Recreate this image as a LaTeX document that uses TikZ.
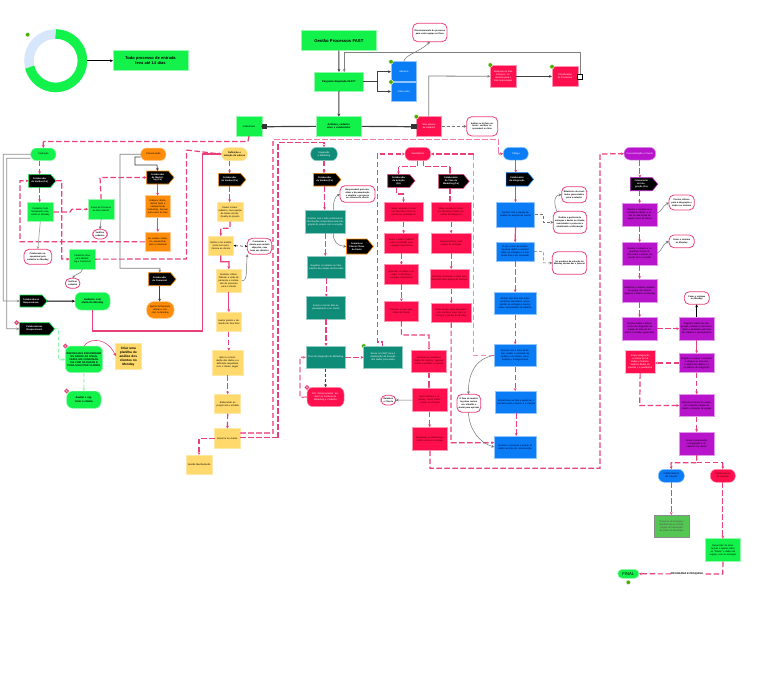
\documentclass[tikz,border=0pt]{standalone}
\usepackage{fontspec}
\setmainfont{Liberation Sans}
\usetikzlibrary{arrows.meta,shapes.symbols,calc}
\definecolor{cgreen}{HTML}{12F24A}
\definecolor{cred}{HTML}{FF0F4D}
\definecolor{cblue}{HTML}{0A7CF5}
\definecolor{corange}{HTML}{FF8C0A}
\definecolor{cyellow}{HTML}{FFD96B}
\definecolor{cteal}{HTML}{0F8C78}
\definecolor{cmag}{HTML}{B814CC}
\definecolor{cpink}{HTML}{E8407A}
\definecolor{cring}{HTML}{D6E6FB}
\newcommand{\tn}{\fontsize{2.35}{3}\selectfont}
\tikzset{
  x=1pt,y=-1pt,
  base/.style={rectangle,inner sep=0pt,outer sep=0pt,align=center,font=\tn},
  gbox/.style={base,fill=cgreen,draw=cgreen!45,line width=.5pt,text=black},
  rbox/.style={base,fill=cred,draw=cred!45,line width=.5pt,text=white},
  bbox/.style={base,fill=cblue,draw=cblue!45,line width=.5pt,text=black!80!blue},
  obox/.style={base,fill=corange,draw=corange!45,line width=.5pt,text=black},
  ybox/.style={base,fill=cyellow,draw=cyellow!60,line width=.5pt,text=black},
  tbox/.style={base,fill=cteal,draw=cteal!45,line width=.5pt,text=white},
  mbox/.style={base,fill=cmag,draw=cmag!45,line width=.5pt,text=black},
  bub/.style={base,fill=white,draw=cpink,line width=.8pt,rounded corners=5pt,text=black,font=\fontsize{2.2}{2.8}\selectfont\bfseries},
  round/.style={rounded corners=6pt},
  tagg/.style={signal,signal to=east,signal pointer angle=100,inner sep=0pt,outer sep=0pt,align=center,fill=black,line width=.6pt,text=white,font=\fontsize{2.3}{2.9}\selectfont\bfseries},
  chk/.style={circle,fill=black!45!green!70!yellow,draw=white,line width=.4pt,minimum size=4.6pt,inner sep=0pt},
  mrk/.style={circle,fill=black!20,draw=cpink,line width=1pt,minimum size=3.6pt,inner sep=0pt},
  sq/.style={rectangle,fill=black!80,minimum size=5.5pt,inner sep=0pt,outer sep=0pt},
  tip/.style={-{Stealth[length=3pt,width=2.8pt]}},
  pd/.style={tip,draw=cpink,line width=1.2pt,dash pattern=on 5.5pt off 2.5pt},
  pdn/.style={draw=cpink,line width=1.2pt,dash pattern=on 5.5pt off 2.5pt},
  ps/.style={tip,draw=cpink,line width=1.2pt},
  gl/.style={tip,draw=black!50,line width=.8pt},
  dk/.style={tip,draw=black!75,line width=1pt},
  thin1/.style={tip,draw=black!55,line width=.5pt},
  dg/.style={tip,draw=black!55,line width=.5pt,densely dashed},
  pg/.style={tip,draw=cgreen!45,line width=1pt,dash pattern=on 4pt off 2pt},
}
% name, style, x1, y1, x2, y2, text
\newcommand{\nd}[7]{%
  \pgfmathsetmacro{\wa}{#5-#3}\pgfmathsetmacro{\ha}{#6-#4}%
  \pgfmathsetmacro{\ca}{(#3+#5)/2}\pgfmathsetmacro{\cb}{(#4+#6)/2}%
  \pgfmathsetmacro{\tw}{\wa-2.5}%
  \node[#2,minimum width=\wa pt,minimum height=\ha pt,text width=\tw pt] (#1) at (\ca,\cb) {#7};}
\newcommand{\tg}[7]{%
  \pgfmathsetmacro{\wa}{#5-#3}\pgfmathsetmacro{\ha}{#6-#4}%
  \pgfmathsetmacro{\ca}{(#3+#5)/2}\pgfmathsetmacro{\cb}{(#4+#6)/2}%
  \pgfmathsetmacro{\tw}{\wa*0.62}%
  \node[tagg,draw=#2,minimum width=\wa pt,minimum height=\ha pt,text width=\tw pt] (#1) at (\ca,\cb) {#7};}
\begin{document}
\begin{tikzpicture}
\useasboundingbox (0,0) rectangle (768,685);
\fill[white] (0,0) rectangle (768,685);
% ring
\coordinate (rc) at (55.7,60.7);
\draw[cring,line width=9.5pt] (rc) circle[radius=26.75pt];
\draw[cgreen,line width=9.5pt] (55.7,33.95) arc[start angle=90,end angle=-166,radius=26.75pt];
\coordinate (rr) at (87.2,60.7);
\node[chk] (c0) at (27.7,34.7) {};
\nd{todo}{gbox,font=\fontsize{4}{5.2}\selectfont\bfseries}{113}{50.7}{188}{70.7}{Todo processo de entrada\\leva até 14 dias}
\draw[tip,black,line width=1.2pt] (rr) -- (todo.west);
% top
\nd{gest}{gbox,font=\fontsize{4.2}{5.2}\selectfont\bfseries}{301.7}{30.7}{376}{50.7}{Gestão Processos FAST}
\nd{perg}{gbox,font=\fontsize{2.6}{3.2}\selectfont\bfseries}{314.7}{72}{363.3}{91}{Pergunta disparada FAST?}
\nd{abe}{bbox,text=white}{391}{61.7}{416.7}{81.7}{Abertura}
\nd{fab}{bbox,text=white}{391}{82}{416.7}{101}{Fábio erika}
\nd{bt}{bub}{412.7}{23.3}{447}{41.7}{Direcionamento do processo para outra equipe ou fluxo}
\nd{re1}{rbox}{490.3}{65}{516}{87.7}{Resposta no Fale Conosco: Direcionar para o time responsável}
\nd{re2}{rbox}{552}{66.7}{578}{86}{Classificação de Processos}
\node[sq,fill=white,draw=black,line width=.7pt,minimum size=5pt] (sqw) at (580.3,76.7) {};
\nd{ana}{gbox,font=\fontsize{2.5}{3.1}\selectfont\bfseries}{316}{116.7}{361.7}{136}{Análises, cadastro ativo e colaborador}
\nd{cad}{gbox}{236}{116.7}{262}{136}{Cadastrado}
\nd{nao}{rbox}{416.3}{116.7}{441.7}{136}{Não passou de cadastro}
\nd{bn}{bub}{466.7}{116.7}{497.7}{136}{Avaliar se há fase anterior: verificar responsável no time}
\node[sq] (s1) at (264.3,126.7) {};
\node[sq] (s2) at (414,126.7) {};
\foreach \n/\a/\b in {c1/391/61.7,c2/391/82,c3/490.3/65,c4/552/66.7,c5/416.3/116.7,c6/363.7/346,c7/628.3/582.3}{\node[chk] (\n) at (\a,\b) {};}
\draw[dk] (gest.south) -- (perg.north);
\draw[dk] (perg.south) -- (ana.north);
\draw[dk,-] (cad.east) -- (s1.west);
\draw[dk,-,line width=1.2pt] (s1.east) -- (ana.west);
\draw[dk,-,line width=1.2pt] (ana.east) -- (s2.west);
\draw[gl,line width=1pt] (sqw.north) -- (580.3,52.7) -- (344.3,52.7) -- (344.3,72);
\draw[dk,line width=.7pt] (perg.east) -- (377,81.5) -- (377,71.7) -- (abe.west);
\draw[dk,line width=.7pt] (perg.east) -- (377,81.5) -- (377,91.5) -- (fab.west);
\draw[thin1] (abe.north) .. controls (404,55) and (420,52) .. (bt.south);
\draw[gl] (428.7,116.7) -- (428.7,76) -- (re1.west);
\draw[dk,line width=.7pt] (re1.east) -- (re2.west);
\draw[dg,line width=.7pt] (nao.east) -- (bn.west);
% cadastro column
\nd{pc}{gbox,round}{30.7}{148}{56}{160.7}{Captação}
\tg{t1}{cgreen}{26}{174.3}{53.3}{187.3}{Colaborador de Vendas (Fa)}
\nd{g1}{gbox}{27.3}{202.3}{53.3}{221.7}{Cadastrar todo fechamento relevante no Monday}
\nd{bg1}{bub}{24}{249.3}{51.7}{264.3}{Colaborador responsável pelo cadastro no Monday}
\nd{g2}{gbox}{88.3}{199.3}{114}{219}{Envio do Processo ao time anterior}
\nd{bg2}{bub}{92.7}{229.3}{107.3}{239}{Verificar cadastro}
\nd{g3}{gbox}{69.7}{249.3}{95}{269}{Cadastrar ativo para Marketing e Comercial}
\nd{bg3}{bub}{65.3}{278.3}{80}{288.3}{Verificar cadastro}
\nd{po}{obox,round}{140.7}{148}{166}{160.7}{Comunicação}
\tg{t2}{corange}{144}{171}{171.3}{184}{Colaborador de Marketing (Fa)}
\nd{o1}{obox}{145}{195.7}{170.7}{217.7}{Elaborar oferta, alinhar texto e campanha de marketing. Aprovar para envio ao time}
\nd{o2}{obox}{145}{232}{170.7}{251.7}{Ao receber cadastro, encaminhar para o comercial}
\tg{t3}{corange}{146}{272.7}{173.3}{285.7}{Colaborador de Comercial}
\nd{o3}{obox,rounded corners=7pt}{146.7}{301.7}{174}{318.3}{Ajustar fechamento, alterar e concluir no Monday}
\tg{t4}{cgreen}{17.3}{295}{44.7}{307}{Colaboradores Responsáveis}
\nd{g4}{gbox,round,font=\fontsize{2.6}{3.2}\selectfont\bfseries}{75}{292.3}{110}{310}{Cadastro com alerta do Monday}
\tg{t5}{cgreen}{16.7}{322.7}{52}{335}{Colaboradores Responsáveis}
\nd{g5}{gbox,round,font=\fontsize{2.5}{3.1}\selectfont\bfseries}{65.3}{346}{102.7}{372.7}{REFORÇAR E ENCAMINHAR OS DADOS AO FINANCEIRO, EM CONSONÂNCIA COM OS DADOS E PARA SOLICITAR CLIENTE}
\nd{note}{ybox,font=\fontsize{3.2}{4}\selectfont\bfseries}{115.7}{343.3}{141}{369.3}{Criar uma planilha de análise dos clientes no Monday}
\nd{g6}{gbox,round,font=\fontsize{2.6}{3.2}\selectfont\bfseries}{66.7}{391}{101}{408.3}{Avaliar e registrar o cliente}
\foreach \n/\a/\b in {m1/16.7/322.7,m2/65.3/346,m3/66.7/391,m4/307/387.3}{\node[mrk] (\n) at (\a,\b) {};}
\draw[pdn] (cad.south) -- (248,141.5) -- (43.3,141.5);
\draw[pd] (43.3,141.5) -- (pc.north);
\draw[gl,draw=black!45] (pc.west) -- (3.3,154.3) -- (3.3,301) -- (t4.west);
\draw[gl,draw=black!45] (30.7,158.3) -- (6.7,158.3) -- (6.7,328.8) -- (t5.west);
\draw[pd] (t1.north |- pc.south) -- (t1.north);
\draw[pd] (t1.south) -- (t1.south |- g1.north);
\draw[pd] (o2.west) -- (20,241.8) -- (20,180.8) -- (t1.west);
\draw[pd] (t1.east) -- (61.7,180.8) -- (61.7,259) -- (g3.west);
\draw[pd] (g1.east) -- (70,212) -- (72,209.2) -- (g2.west);
\draw[pd] (g2.north) -- (100,177.6) -- (t2.west);
\draw[thin1] (g2.south) -- (bg2.north);
\draw[thin1,draw=black!35,line width=.7pt] (g1.south) -- (bg1.north);
\draw[thin1] (g3.south) .. controls (82,274) and (75,274) .. (bg3.north);
\draw[pdn] (g3.east) -- (186.5,259) -- (186.5,150);
\draw[gl] (po.west) -- (120,154.3) -- (120,268.3) -- (160,268.3) -- (t3.north);
\draw[dk,line width=.7pt] (140.7,157) -- (135,157) -- (135,165) -- (157,165) -- (t2.north);
\draw[ps] (t2.south) -- (t2.south |- o1.north);
\draw[ps] (o1.south) -- (o2.north);
\draw[dk] (t3.south) -- (t3.south |- o3.north);
\draw[tip,black,line width=1pt] (t4.east) -- (g4.west);
\draw[cpink,line width=1.3pt] (g4.south) -- (92.5,331) -- (202.3,331) -- (202.3,154);
\draw[tip,draw=cgreen!45,line width=1pt,dash pattern=on 4pt off 2pt] (t5.east) -- (58.7,328.8) -- (58.7,360) -- (g5.west);
\draw[pg] (g5.south) -- (g6.north);
\draw[tip,draw=cpink,line width=.6pt] (84,346) .. controls (90,337) and (108,338) .. (note.west);
% yellow column
\nd{py}{ybox,round,font=\tn\bfseries}{221.7}{147.7}{247.3}{160.7}{Definição e solução de valores}
\tg{t6}{corange}{216}{173.3}{243.3}{186}{Colaborador de Vendas (Fa)}
\nd{y1}{ybox}{217}{202.3}{243}{221.7}{Dados iniciais: cadastro, nova equipe de bases iniciais; Quality do projeto}
\nd{y2}{ybox}{208}{236}{233.7}{255.3}{Alinhar e ter análise inicial com pertinência ao cliente}
\nd{by}{bub}{247.3}{238.3}{271.7}{254.3}{Comunicar o cliente para reduzir objeções, com base em cálculos}
\nd{y3}{ybox}{216}{269.3}{241.7}{292}{Atualizar critério, fidelizar a visão de parceiros e conteúdos do processo para o cliente}
\nd{y4}{ybox}{216}{312}{241.7}{331.7}{Avaliar gastos e demanda do time final}
\nd{y5}{ybox}{212}{350.7}{243}{375}{Após a consolidação dos dados e a definição reajustada com o cliente, seguir}
\nd{y6}{ybox}{214.7}{394.3}{240.7}{413.7}{Elaborando ao projeto até a entrada}
\nd{y7}{ybox}{214.7}{428.7}{240}{448}{Encerrar ao cliente}
\nd{y8}{ybox}{186.3}{455}{212}{474.3}{Gestão Manifestando}
\draw[pd] (186.5,150) -- (py.west);
\draw[ps] (202.3,154) -- (py.west |- 202.3,154);
\draw[pd] (py.south -| t6.north) -- (t6.north);
\draw[pd] (t6.south) -- (t6.south |- y1.north);
\draw[pd] (y1.south) -- (230,228.3) -- (220.8,228.3) -- (y2.north);
\draw[ps] (y2.south) -- (220.8,261.7) -- (229,261.7) -- (y3.north);
\draw[ps] (y3.south) -- (y4.north);
\draw[pd] (y4.south) -- (y5.north -| y4.south);
\draw[pd] (y5.south -| y6.north) -- (y6.north);
\draw[pd] (y6.south) -- (y7.north);
\draw[pd] (y7.west |- 214.7,438.3) -- (199,438.3) -- (y8.north -| 199,455);
\draw[{Stealth[length=2.4pt,width=2.2pt]}-{Stealth[length=2.4pt,width=2.2pt]},black,line width=.5pt,densely dashed] (y2.east) -- (by.west);
\draw[thin1] (y3.east) .. controls (248,282) and (246,268) .. (by.south west);
% teal
\nd{pt}{tbox,round}{310.7}{147.3}{337.3}{160.7}{Integração e Marketing}
\tg{t7}{corange}{311}{173.3}{338.3}{186}{Colaborador de Vendas (Fa)}
\nd{bt1}{bub}{340}{185.7}{375}{202.3}{Responsável para atualizar a documentação e sinalizar o processo no sistema do cliente}
\nd{e1}{tbox}{305.3}{210}{345.3}{233.3}{Analisar com o time comercial as informações necessárias para integração do projeto com a solução}
\tg{t8}{corange}{343.3}{239}{370.3}{254}{Comunicar Cliente Chave da Pauta}
\nd{e2}{tbox}{307.3}{256}{345.3}{278.3}{Registrar no sistema as informações das etapas de Reuniões}
\nd{e3}{tbox}{306.7}{296.7}{345.3}{319}{Enviar e marcar data ao planejamento e ao cliente}
\nd{e4}{tbox}{306}{346}{345.3}{368.7}{Final de Integração do Marketing}
\nd{e5}{tbox}{363.7}{346}{402.3}{368.7}{Enviar ao FAST para a Atualização da Solução dos dados para etapa}
\nd{r0}{rbox,round}{307}{387.3}{344}{406.7}{Fim / Encerramento: Reduzir no Controle do Marketing e Cadastro}
\draw[pd] (278,437.7) -- (278,142.7) -- (324,142.7) -- (pt.north);
\draw[pdn] (y7.east |- 240,437.7) -- (278,437.7);
\draw[pdn,draw=cpink!70] (y7.east |- 240,433) -- (273,433) -- (273,139.3) -- (498.5,139.3) -- (498.5,154);
\draw[pd] (pt.south) -- (pt.south |- t7.north);
\draw[pd] (t7.south) -- (t7.south |- e1.north);
\draw[pd] (e1.south) -- (e1.south |- e2.north);
\draw[pd] (e2.south) -- (e2.south |- e3.north);
\draw[pd] (e3.south) -- (e3.south |- e4.north);
\draw[dk,line width=.6pt,densely dashed] (e4.south) -- (e4.south |- r0.north);
\draw[pd] (e4.east) -- (e5.west);
\draw[pd,draw=cpink!80] (r0.west) -- (300,397.3) -- (300,357.3) -- (e4.west);
\draw[thin1] (333.3,210) .. controls (333,200) and (336,196) .. (bt1.west);
\draw[thin1] (333.3,233.3) .. controls (333,242) and (338,246) .. (t8.west);
% red
\nd{pr}{rbox,round}{405}{147.3}{430.7}{160.7}{Solicitações}
\tg{t9}{cpink}{385}{174.3}{412.3}{187.3}{Colaborador da Solução (Fa)}
\tg{t10}{cpink}{435.7}{174.3}{466.3}{188.3}{Colaborador do Time de Marketing (Fa)}
\nd{l1}{rbox,text=black!70!red}{384}{202.3}{423.3}{221.7}{Mapa, analisar e incluir em Reuniões sobre os processos estratégicos}
\nd{l2}{rbox,text=black!70!red}{384}{233.3}{418.7}{253.3}{Inserir a rede e publicar sobre a entidade para a equipe responsável}
\nd{l3}{rbox,text=black!70!red}{384}{264.7}{418.7}{284.3}{Aprender os dados e divulgar no Monday e a equipe responsável}
\nd{l4}{rbox,text=black!70!red}{384}{301.3}{418.7}{321}{Receber e levar para etapa de Cliente}
\nd{r1}{rbox,text=black!70!red}{431.3}{202.3}{471}{221.7}{Mapa, analisar e incluir em Reuniões (Sobre Reuniões Estratégicas)}
\nd{r2}{rbox,text=black!70!red}{431.3}{233.3}{471}{253.3}{Responsabilizar para equipe de entregas}
\nd{r3}{rbox,text=black!70!red}{430}{269}{469.3}{288.7}{Escolher, processar e levar para Reuniões para equipe de serviços}
\nd{r4}{rbox,text=black!70!red}{431.3}{303.3}{471}{322.7}{Cada equipe, após aprovação e de reuniões, levar para os serviços e pautas do Monday}
\nd{q1}{rbox,text=black!70!red}{411.3}{350}{446.7}{372.7}{Receber as reuniões e Dados do sistema. Agendar cliente e produzir a reunião}
\nd{q2}{rbox,text=black!70!red}{412.3}{388.7}{447}{411.7}{Após análises e reuniões, enviar dados e todas as entregas}
\nd{q3}{rbox,text=black!70!red}{412.3}{427.3}{447.7}{450.7}{Responder ao Marketing e cliente sobre os entregas}
\nd{bq}{bub}{381}{395.3}{395.7}{405}{Relatório e Cliente}
\nd{bw}{bub}{457}{394.3}{480.7}{412.3}{O time de marketing deve revisar seu trabalho e enviar para aprovar}
\draw[pd] (e5.north -| 382.7,346) -- (382.7,342) -- (377.3,342) -- (377.3,154) -- (pr.west);
\draw[pdn] (417.7,160.7) -- (417.7,166.7) -- (398.5,166.7);
\draw[pd] (398.5,166.7) -- (398.5,174.3);
\draw[pdn] (423.3,160.7) -- (423.3,166.7) -- (450,166.7);
\draw[pd] (450,166.7) -- (450,174.3);
\draw[pd] (396.7,187.3) -- (396.7,194) -- (403.5,194) -- (403.5,202.3);
\draw[pd] (l1.south) -- (l1.south |- l2.north);
\draw[pd] (l2.south) -- (l2.south |- l3.north);
\draw[pd] (l3.south) -- (l3.south |- l4.north);
\draw[pd] (l4.south) -- (401.4,335) -- (429,335) -- (q1.north);
\draw[pd] (q1.south) -- (q1.south |- q2.north);
\draw[pd] (q2.south) -- (q2.south |- q3.north);
\draw[thin1] (q2.west) -- (bq.east);
\draw[pd] (450,188.3) -- (r1.north -| 450,188.3);
\draw[pd] (r1.south) -- (r1.south |- r2.north);
\draw[pd] (r2.south) -- (r2.south |- r3.north);
\draw[pd] (r3.south -| r4.north) -- (r4.north);
\draw[pd] (r4.south) -- (451,442.7) -- (494.3,442.7);
% blue
\nd{pb}{bbox,round,text=white}{503.3}{147.3}{528.3}{160}{Tráfego}
\tg{t11}{cblue}{503.3}{172.7}{530.7}{186}{Colaborador da Integração}
\nd{b1}{bbox}{496.3}{202.3}{534.7}{227}{Revisar com a equipe de análise de solução de cliente}
\nd{b2}{bbox}{496.3}{242.3}{534}{261}{O que o time de marketing deve definir e analisar sobre as entregas e o conteúdo final a ser aprovado}
\nd{b3}{bbox}{494.3}{292.3}{536}{314.7}{Alinhar com time das áreas conforme necessário, acompanhar as entregas e buscar sobre necessidade de trabalho}
\nd{b4}{bbox}{494.3}{344.3}{536}{366.7}{Revisar com a área de dados, avaliar o conteúdo da análise e do cliente, estruturação e entregas finais}
\nd{b5}{bbox}{495.7}{391}{536.7}{413.3}{Encaminhar ao time e gerenciar o processo para o cliente e a solução}
\nd{b6}{bbox}{494.3}{436}{536}{458.3}{Concluir o processo e passar os dados ao time de comunicação}
\nd{bb1}{bub}{561.7}{186.7}{586.7}{202.7}{Relatórios de resultados gerenciados para a solução}
\nd{bb2}{bub}{553.3}{211.3}{586.7}{233.3}{Realize a gerência de entregas e dados ao cliente, executando o processo e atualizando a informação}
\nd{bb3}{bub}{552.3}{251.7}{586.7}{274.3}{Os usuários da solução de Monday devem dar o parecer}
\draw[pd] (498.5,154) -- (pb.west);
\draw[ps] (pb.south) -- (pb.south |- t11.north);
\draw[ps] (t11.south -| b1.north) -- (b1.north);
\draw[ps] (b1.south) -- (b2.north);
\draw[pd] (b2.south) -- (b3.north);
\draw[pd] (b3.south) -- (b4.north);
\draw[pd] (b4.south) -- (b5.north -| b4.south);
\draw[pd] (b5.south) -- (b6.north -| b5.south);
\draw[dg] (534.7,214.7) -- (543.3,214.7) -- (543.3,222.3) -- (bb2.west);
\draw[dg] (b2.east) -- (543.3,251.7) -- (543.3,262.9) -- (bb3.west);
\draw[thin1] (556.7,211.3) .. controls (553,200) and (555,195) .. (bb1.west);
\draw[pdn,draw=cpink!60] (b4.west) -- (473.5,355.5) -- (473.5,154);
\draw[pd] (473.5,154) -- (pr.east);
\draw[thin1] (b4.west) .. controls (475,358) and (468,375) .. (468.5,394.3);
\draw[thin1] (468.5,412.3) .. controls (469,430) and (480,443) .. (494.3,447);
% magenta
\nd{pm}{mbox,round,text=white}{624}{147.3}{655.7}{160}{Personalização e Cliente}
\tg{t12}{cmag}{627.7}{177.7}{655}{190.7}{Colaborador de Integração (Fa)}
\nd{m1b}{mbox}{622.3}{203.3}{657}{226}{Revisar o sistema ou a entrada de dados, e todas as alterações de equipe antes de liberar}
\nd{m2b}{mbox}{622.3}{242.3}{657}{265}{Revisar o sistema e as questões iniciais do time sobre o cliente, de acordo com a reunião}
\nd{m3b}{mbox}{622.3}{279}{657}{302.3}{Relatórios e análise cadastro da equipe dos últimos registros e dados no Monday}
\nd{m4b}{mbox}{622.3}{317.3}{657}{340}{Revisar dados e faturamento da integração da equipe do time de trabalho e reuniões gerenciais}
\nd{rb}{mbox}{679.3}{317.3}{714}{340}{Registrar dados de integração, cadastro e documentação e avaliação pelo time de cadastro e planejamento}
\nd{rr1}{rbox,draw=cpink!35,line width=1pt}{625.3}{350.7}{655}{373.3}{Enviar integração e checar se há dados e finalizar. Verificar dados da solução e a pendência}
\nd{nb}{mbox}{679.3}{353.3}{714}{372.7}{Registrar e avaliar o cadastro e integrar ao processo e dados dos dados e a pendência de integração}
\nd{ob}{mbox}{679.3}{394.3}{714}{416.7}{Revisar processo de cadastro e atualizar dados do cliente e situação de equipe}
\nd{pbb}{mbox}{679.3}{432}{714}{455}{Enviar comunicação à integração e ao cadastro do cliente}
\nd{bm1}{bub}{669}{195}{694.3}{210}{Pontos críticos para a integração e dados no sistema}
\nd{bm2}{bub}{669}{235}{694.3}{247.7}{Fazer o sistema no Monday}
\nd{bm3}{bub}{684.3}{291.7}{709.3}{304.3}{Fazer o sistema no Monday}
\nd{pbl}{bbox,round}{658.3}{469.3}{684.3}{482.3}{Colaboradores da Solução}
\nd{prd}{rbox,round,text=black!70!red}{710.3}{469.3}{735.3}{482.3}{Colaboradores da Solução}
\nd{gg}{gbox,fill=green!50!gray!90,draw=black!45,text=black!70}{654.3}{515}{689}{537.3}{Processo de Entrega e atendimento ao cliente, equipe de finalização de todas as atividades}
\nd{gr}{gbox}{705.7}{538.7}{740.3}{561.7}{Responder às solicitações e ajustar todos os "Status" e dados da equipe, com as entregas}
\nd{fim}{gbox,rounded corners=4.5pt,font=\fontsize{4.2}{5}\selectfont}{617.7}{569.3}{639}{578.3}{FINAL}
\draw[pd] (430,450.7) -- (430,468.3) -- (600,468.3) -- (600,154) -- (pm.west);
\draw[pd] (pm.south) -- (pm.south |- t12.north);
\draw[pd] (t12.south -| m1b.north) -- (m1b.north);
\draw[pd] (m1b.south) -- (m2b.north);
\draw[pd] (m2b.south) -- (m3b.north);
\draw[pd] (m3b.south) -- (m4b.north);
\draw[pd] (m4b.east) -- (rb.west);
\draw[tip,black,line width=.6pt] (rb.north) -- (rb.north |- bm3.south);
\draw[ps] (rb.south) -- (nb.north);
\draw[pd] (nb.west) -- (rr1.east |- nb.west);
\draw[pd] (nb.south) -- (ob.north);
\draw[pd] (rr1.south) -- (639.7,405.5) -- (ob.west);
\draw[pd] (ob.south) -- (pbb.north);
\draw[thin1] (657,213) .. controls (662,212) and (662,206) .. (bm1.west);
\draw[thin1] (657,253) .. controls (662,252) and (662,244) .. (bm2.west);
\draw[pdn] (pbb.south) -- (696.7,462.7) -- (671,462.7);
\draw[pd] (671,462.7) -- (pbl.north);
\draw[pdn] (696.7,462.7) -- (722.7,462.7);
\draw[pd] (722.7,462.7) -- (prd.north);
\draw[pd] (pbl.south) -- (gg.north -| pbl.south);
\draw[pd] (prd.south) -- (gr.north -| prd.south);
\draw[pd] (gr.south) -- (722.7,574) -- (fim.east);
\node[font=\fontsize{2.6}{3}\selectfont\bfseries,fill=white,inner sep=.3pt] (lab) at (687,573.5) {PROGRAMA E PESQUISA};
\end{tikzpicture}
\end{document}
